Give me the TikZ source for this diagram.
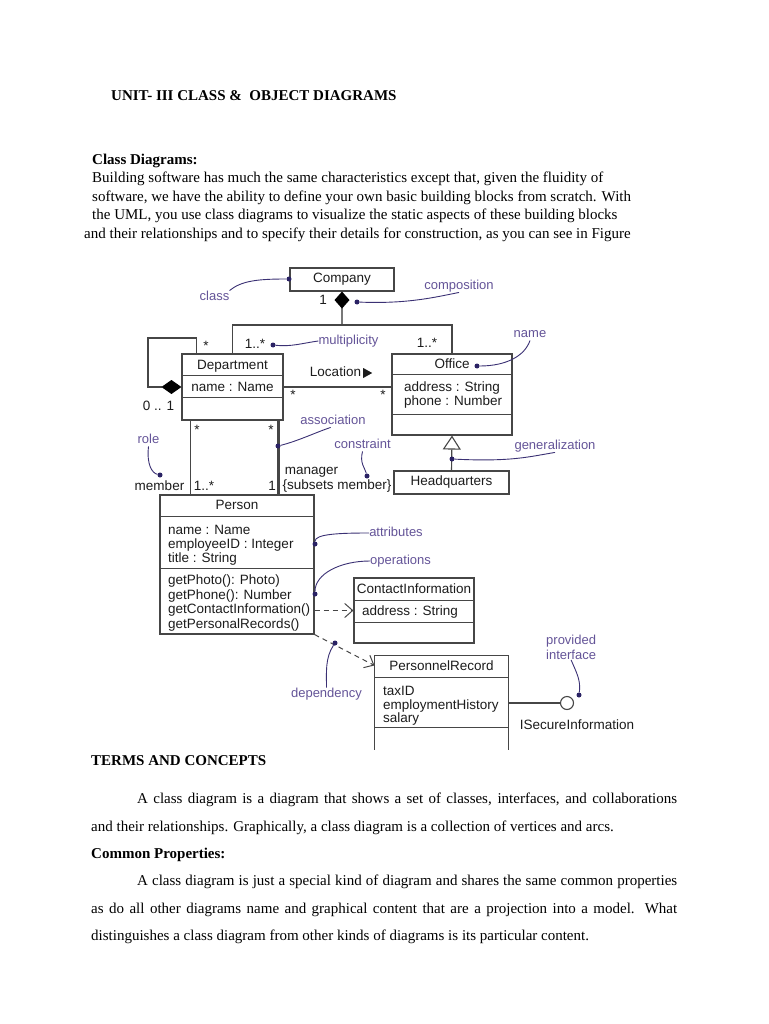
\documentclass[tikz,border=0pt]{standalone}
\usepackage{fontspec}
\setmainfont{Liberation Serif}
\newfontfamily\umlsans{Liberation Sans}
\usetikzlibrary{arrows.meta,calc,positioning,shapes.geometric}
\definecolor{NoteViolet}{RGB}{100,84,152}
\definecolor{PinNavy}{RGB}{42,34,100}
\definecolor{BoxGray}{RGB}{70,70,70}
\definecolor{StemGray}{RGB}{120,120,120}
\definecolor{InkBlack}{RGB}{28,28,28}

\begin{document}
\begin{tikzpicture}[x=1pt,y=-1pt,
  pagetext/.style={inner sep=0pt,anchor=west,text height=10.5pt,text depth=3pt,font=\fontsize{15}{18}\selectfont},
  pagehead/.style={pagetext,font=\fontsize{15}{18}\selectfont\bfseries},
  umlclass/.style={draw=BoxGray,line width=1.1pt,fill=white,inner sep=0pt,font=\umlsans\fontsize{13.5}{15}\selectfont,text=InkBlack},
  umltext/.style={inner sep=0pt,text height=9.5pt,text depth=3pt,font=\umlsans\fontsize{13.5}{15}\selectfont,text=InkBlack},
  notelbl/.style={umltext,text=NoteViolet,font=\umlsans\fontsize{13}{15}\selectfont},
  pin/.style={circle,fill=PinNavy,inner sep=0pt,minimum size=5pt},
  leader/.style={draw=PinNavy!70!NoteViolet,line width=0.9pt},
  link/.style={draw=BoxGray,line width=1.1pt},
  sep/.style={draw=BoxGray,line width=1.1pt},
  dep/.style={draw=BoxGray,line width=1pt,dash pattern=on 5pt off 4pt,-{Straight Barb[length=8pt,width=14pt]}}
]
\fill[white] (0,0) rectangle (768,1024);
\useasboundingbox (0,0) rectangle (768,1024);

% page text above the figure
\node[pagehead] (unittitle) at (111,97) {UNIT- III CLASS \&\ \ OBJECT DIAGRAMS};
\node[pagehead] (classhead) at (92,161) {Class Diagrams:};
\node[pagetext] (introa) at (92,179) {Building software has much the same characteristics except that, given the fluidity of};
\node[pagetext] (introb) at (92,198) {software, we have the ability to define your own basic building blocks from scratch. With};
\node[pagetext] (introc) at (92,216) {the UML, you use class diagrams to visualize the static aspects of these building blocks};
\node[pagetext] (introd) at (84,235) {and their relationships and to specify their details for construction, as you can see in Figure};

% classes
\node[umlclass,minimum width=104pt,minimum height=23pt] (company) at (342,279.5) {Company};

\node[umlclass,minimum width=101pt,minimum height=66pt] (dept) at (232.5,387) {};
\draw[sep] ($(dept.north west)+(0,22)$) -- ($(dept.north east)+(0,22)$);
\draw[sep] ($(dept.north west)+(0,44)$) -- ($(dept.north east)+(0,44)$);
\node[umltext] (deptname) at (232.5,366) {Department};
\node[umltext] (deptattr) at (232.5,388) {name : Name};

\node[umlclass,minimum width=120pt,minimum height=81pt] (office) at (452,394.5) {};
\draw[sep] ($(office.north west)+(0,21)$) -- ($(office.north east)+(0,21)$);
\draw[sep] ($(office.north west)+(0,61)$) -- ($(office.north east)+(0,61)$);
\node[umltext] (officename) at (452,365) {Office};
\node[umltext,anchor=west] (officeaddr) at (404,388) {address : String};
\node[umltext,anchor=west] (officephone) at (404,402) {phone : Number};

\node[umlclass,minimum width=115pt,minimum height=23pt] (hq) at (451.5,482.5) {Headquarters};

\node[umlclass,minimum width=154pt,minimum height=139pt] (person) at (237,564.5) {};
\draw[sep] ($(person.north west)+(0,22)$) -- ($(person.north east)+(0,22)$);
\draw[sep] ($(person.north west)+(0,74)$) -- ($(person.north east)+(0,74)$);
\node[umltext] (personname) at (237,506) {Person};
\node[umltext,anchor=west] (pattra) at (168,531) {name : Name};
\node[umltext,anchor=west] (pattrb) at (168,545) {employeeID : Integer};
\node[umltext,anchor=west] (pattrc) at (168,559) {title : String};
\node[umltext,anchor=west] (popa) at (168,581) {getPhoto(): Photo)};
\node[umltext,anchor=west] (popb) at (168,596) {getPhone(): Number};
\node[umltext,anchor=west] (popc) at (168,610) {getContactInformation()};
\node[umltext,anchor=west] (popd) at (168,625) {getPersonalRecords()};

\node[umlclass,minimum width=120pt,minimum height=65pt] (contact) at (414,610.5) {};
\draw[sep] ($(contact.north west)+(0,23)$) -- ($(contact.north east)+(0,23)$);
\draw[sep] ($(contact.north west)+(0,45)$) -- ($(contact.north east)+(0,45)$);
\node[umltext] (contactname) at (414,590) {ContactInformation};
\node[umltext,anchor=west] (contactaddr) at (362,612) {address : String};

% personnel record, cut off at the bottom
\node[umlclass,draw=none,fill=none,minimum width=133pt,minimum height=93pt] (precord) at (441.5,702.5) {};
\draw[sep] (precord.south west) |- (precord.north east) -- (precord.south east);
\draw[sep] ($(precord.north west)+(0,22)$) -- ($(precord.north east)+(0,22)$);
\draw[sep] ($(precord.north west)+(0,72)$) -- ($(precord.north east)+(0,72)$);
\node[umltext] (precname) at (441.5,667) {PersonnelRecord};
\node[umltext,anchor=west] (precattra) at (383,692) {taxID};
\node[umltext,anchor=west] (precattrb) at (383,706) {employmentHistory};
\node[umltext,anchor=west] (precattrc) at (383,719) {salary};

% relationships
\coordinate (compjoin) at (342,325);
\draw[draw=StemGray,line width=2.5pt,-{Diamond[length=17pt,width=15pt,color=black]}] (compjoin) -- (company.south);
\draw[link] (dept.north) |- (compjoin) -| (office.north);

\coordinate (selfloop) at (148,338);
\coordinate (selfend) at ($(dept.north west)+(15,0)$);
\draw[link,-{Diamond[length=20pt,width=14pt,color=black]}] (selfend) |- (selfloop) |- (dept.west);

\draw[link] (dept.east) -- (dept.east -| office.west);

\coordinate (memberend) at ($(dept.south west)+(9,0)$);
\coordinate (managerend) at ($(dept.south east)+(-5,0)$);
\draw[link] (memberend) -- (memberend |- person.north);
\draw[link,line width=2.4pt] (managerend) -- (managerend |- person.north);

\draw[link,-{Triangle[open,length=14pt,width=18pt]}] (hq.north) -- (office.south);

\draw[dep] (person.east |- contact.west) -- (contact.west);
\draw[dep] (person.south east) -- ($(precord.north west)+(0,10)$);

\node[circle,draw=BoxGray,line width=1.1pt,minimum size=13pt,inner sep=0pt] (isecure) at (567,703) {};
\draw[link] (precord.east |- isecure) -- (isecure);

% multiplicities and roles
\node[umltext] (compone) at (323,301) {1};
\node[umltext] (deptmany) at (255,345) {1..*};
\node[umltext] (selfmany) at (206,347) {*};
\node[umltext] (officemany) at (427,344) {1..*};
\node[umltext] (selfopt) at (158.5,407) {0 .. 1};
\node[umltext] (locleft) at (293,396) {*};
\node[umltext] (locright) at (383,396) {*};
\node[umltext] (memberstar) at (197,431) {*};
\node[umltext] (managerstar) at (271,431) {*};
\node[umltext] (memberrole) at (159.5,487) {member};
\node[umltext] (membermany) at (204,487) {1..*};
\node[umltext] (managerone) at (272,487) {1};
\node[umltext] (managerrole) at (311.5,471) {manager};
\node[umltext] (managercons) at (337,486) {\{subsets member\}};
\node[umltext] (loclbl) at (335.5,373) {Location};
\fill[InkBlack] ($(loclbl.east)+(2,-5)$) -- ++(9,5) -- ++(-9,5) -- cycle;
\node[umltext] (isecurelbl) at (577,726) {ISecureInformation};

% notes with their pins
\node[notelbl] (classlbl) at (214.5,297) {class};
\node[notelbl] (complbl) at (459,286) {composition};
\node[notelbl] (multlbl) at (348.5,341) {multiplicity};
\node[notelbl] (namelbl) at (530,334) {name};
\node[notelbl] (assoclbl) at (333,421) {association};
\node[notelbl] (constrlbl) at (362.5,445) {constraint};
\node[notelbl] (rolelbl) at (148.5,440) {role};
\node[notelbl] (genlbl) at (555,446) {generalization};
\node[notelbl] (attrlbl) at (396,533) {attributes};
\node[notelbl] (opslbl) at (400.5,561) {operations};
\node[notelbl] (deplbl) at (326.5,694) {dependency};
\node[inner sep=0pt,text=NoteViolet,font=\umlsans\fontsize{13}{15}\selectfont,align=left,anchor=west] (ifacelbl) at (546,647.5) {provided\\interface};

\node[pin] (classpin) at (289,279) {};
\node[pin] (comppin) at (357,302) {};
\node[pin] (multpin) at (273,345) {};
\node[pin] (namepin) at (477,366) {};
\node[pin] (assocpin) at (278,446) {};
\node[pin] (rolepin) at (160,475) {};
\node[pin] (constrpin) at (367,476) {};
\node[pin] (genpin) at (452,459) {};
\node[pin] (attrpin) at (315,544) {};
\node[pin] (opspin) at (315,594) {};
\node[pin] (deppin) at (335,643) {};
\node[pin] (ifacepin) at (579,695) {};

\draw[leader] (classlbl.north east) .. controls +(12,-10) and +(-30,0) .. (classpin);
\draw[leader] (comppin) .. controls +(50,2) and +(-25,5) .. (complbl.south);
\draw[leader] (multpin) .. controls +(18,2) and +(-15,2) .. (multlbl.west);
\draw[leader] (namepin) .. controls +(30,0) and +(-5,15) .. (namelbl.south);
\draw[leader] (assocpin) .. controls +(20,-5) and +(-15,5) .. (assoclbl.250);
\draw[leader] (rolelbl.south) .. controls +(-2,18) and +(-8,-2) .. (rolepin);
\draw[leader] (constrlbl.south) .. controls +(-3,12) and +(-2,-8) .. (constrpin);
\draw[leader] (genpin) .. controls +(60,3) and +(-25,4) .. (genlbl.south);
\draw[leader] (attrpin) .. controls +(0,-10) and +(-30,0) .. (attrlbl.west);
\draw[leader] (opspin) .. controls +(0,-20) and +(-30,0) .. (opslbl.west);
\draw[leader] (deppin) .. controls +(-10,15) and +(0,-15) .. (deplbl.north);
\draw[leader] (ifacelbl.south) .. controls +(5,12) and +(2,-15) .. (ifacepin);

% page text below the figure
\node[pagehead] (termshead) at (91,762) {TERMS AND CONCEPTS};
\node[pagetext] (termsa) at (137,800) {\makebox[540pt][s]{A class diagram is a diagram that shows a set of classes, interfaces, and collaborations}};
\node[pagetext] (termsb) at (91,828) {and their relationships. Graphically, a class diagram is a collection of vertices and arcs.};
\node[pagehead] (commonhead) at (91,855) {Common Properties:};
\node[pagetext] (commona) at (137,882) {\makebox[540pt][s]{A class diagram is just a special kind of diagram and shares the same common properties}};
\node[pagetext] (commonb) at (91,910) {\makebox[586pt][s]{as do all other diagrams name and graphical content that are a projection into a model. What}};
\node[pagetext] (commonc) at (91,937) {distinguishes a class diagram from other kinds of diagrams is its particular content.};
\end{tikzpicture}
\end{document}
